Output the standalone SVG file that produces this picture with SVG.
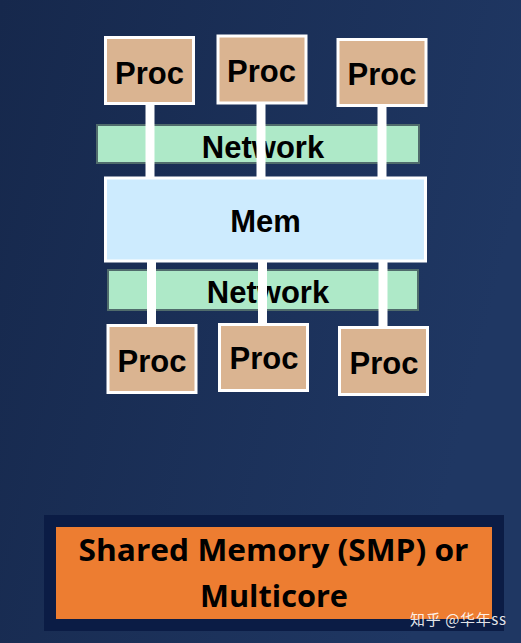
<svg xmlns="http://www.w3.org/2000/svg" width="521" height="643" viewBox="0 0 521 643">
<defs>
<linearGradient id="bg" x1="0" y1="0" x2="1" y2="0.3">
<stop offset="0" stop-color="#16284c"/>
<stop offset="1" stop-color="#1f3763"/>
</linearGradient>
<style>
.proc{fill:#dab491;stroke:#ffffff;stroke-width:3}
.net{fill:#aee9c8;stroke:#506c6c;stroke-width:2}
.mem{fill:#cdebfe;stroke:#ffffff;stroke-width:3}
.lbl{font-family:"Liberation Sans",Arial,sans-serif;font-weight:bold;font-size:31px;fill:#000;text-anchor:middle}
.wire{stroke:#ffffff;stroke-width:9;fill:none}
.title{font-family:"Open Sans","Noto Sans",sans-serif;font-weight:bold;font-size:31px;fill:#000;text-anchor:middle}
</style>
</defs>
<rect width="521" height="643" fill="url(#bg)"/>
<g id="network1"><rect class="net" x="97" y="125" width="322" height="38"/><text class="lbl" x="263" y="157.5">Network</text></g>
<g id="network2"><rect class="net" x="108" y="270" width="310" height="40"/><text class="lbl" x="268" y="302.5">Network</text></g>
<g id="connectors">
<line class="wire" x1="150" y1="104" x2="150" y2="178"/>
<line class="wire" x1="261" y1="103" x2="261" y2="178"/>
<line class="wire" x1="382" y1="105" x2="382" y2="178"/>
<line class="wire" x1="151.5" y1="260" x2="151.5" y2="325"/>
<line class="wire" x1="262.5" y1="260" x2="262.5" y2="324"/>
<line class="wire" x1="383" y1="260" x2="383" y2="327"/>
</g>
<g id="proc1"><rect class="proc" x="105.5" y="37.5" width="88" height="66"/><text class="lbl" x="149.5" y="83.5">Proc</text></g>
<g id="proc2"><rect class="proc" x="218" y="36" width="88" height="67"/><text class="lbl" x="261.5" y="81.5">Proc</text></g>
<g id="proc3"><rect class="proc" x="338" y="39.5" width="88" height="66"/><text class="lbl" x="382" y="85">Proc</text></g>
<g id="mem"><rect class="mem" x="105.5" y="178" width="320" height="83"/><text class="lbl" x="265.5" y="231.5">Mem</text></g>
<g id="proc4"><rect class="proc" x="108" y="325.5" width="88" height="67"/><text class="lbl" x="152" y="371.5">Proc</text></g>
<g id="proc5"><rect class="proc" x="219.5" y="324.5" width="88" height="66"/><text class="lbl" x="264" y="368.5">Proc</text></g>
<g id="proc6"><rect class="proc" x="339.5" y="327.5" width="88" height="67"/><text class="lbl" x="384" y="373.5">Proc</text></g>
<g id="caption">
<rect x="44" y="515" width="460" height="116" fill="#0b1c45"/>
<rect x="56" y="527" width="436" height="92" fill="#ed7d31"/>
<text class="title" x="273.5" y="561" textLength="390" lengthAdjust="spacingAndGlyphs">Shared Memory (SMP) or</text>
<text class="title" x="274" y="606.5" textLength="148" lengthAdjust="spacingAndGlyphs">Multicore</text>
</g>
<text x="410" y="625" font-family="'Noto Sans CJK SC','Noto Sans',sans-serif" font-size="15" fill="#ffffff" fill-opacity="0.9" textLength="96" lengthAdjust="spacing">知乎 @华年ss</text>
</svg>
